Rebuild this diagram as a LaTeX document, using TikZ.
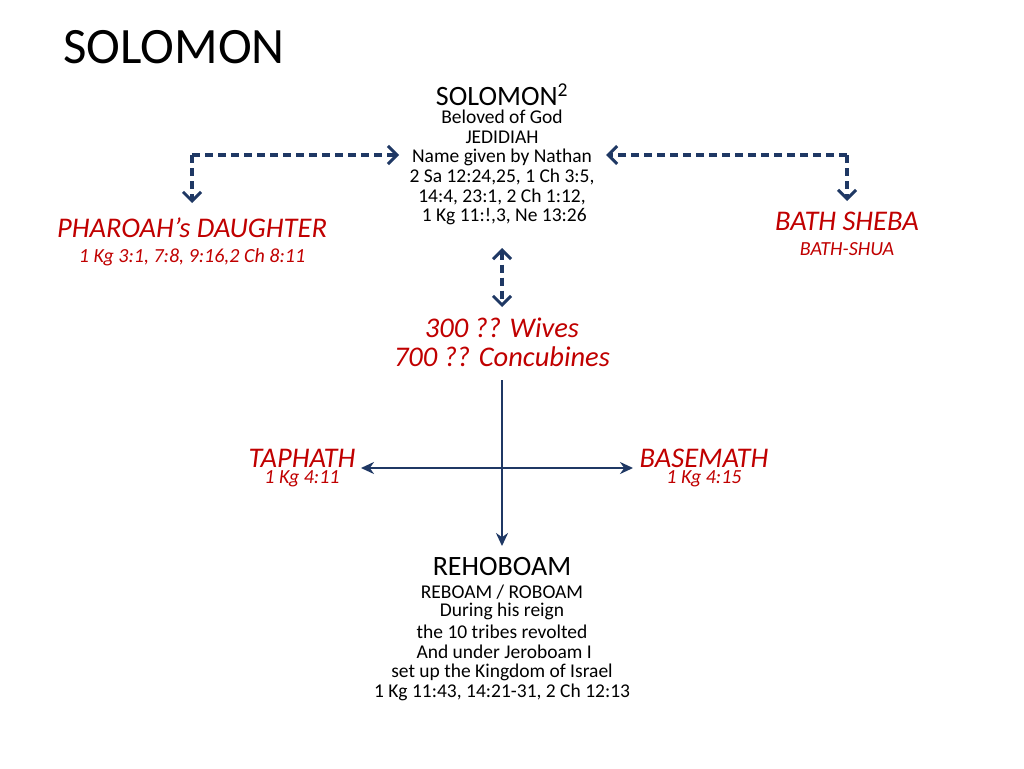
\documentclass[tikz,border=0pt]{standalone}
\usepackage{fontspec}
\setmainfont{Carlito}
\usetikzlibrary{arrows.meta}
\definecolor{dblue}{HTML}{1F3864}
\definecolor{dred}{HTML}{C00000}
\begin{document}
\begin{tikzpicture}[x=1pt,y=-1pt,
  t/.style={inner sep=0pt,anchor=center},
  sm/.style={t,font=\fontsize{19.5}{19.5}\selectfont},
  big/.style={t,font=\fontsize{28}{28}\selectfont},
  rbig/.style={t,text=dred,font=\fontsize{28.5}{28.5}\selectfont\itshape},
  rsm/.style={t,text=dred,font=\fontsize{20}{20}\selectfont\itshape},
  dconn/.style={dblue,line width=3.5pt,dash pattern=on 8pt off 5pt,-{Straight Barb[length=9pt,width=18pt,line width=3pt]}},
  dconnb/.style={dblue,line width=3.5pt,dash pattern=on 8pt off 5pt,{Straight Barb[length=9pt,width=18pt,line width=3pt]}-{Straight Barb[length=9pt,width=18pt,line width=3pt]}},
  sconn/.style={dblue,line width=2.5pt,-{Stealth[length=13pt,width=12pt]}},
  sconnb/.style={dblue,line width=2.5pt,{Stealth[length=13pt,width=12pt]}-{Stealth[length=13pt,width=12pt]}}]
\useasboundingbox (0,0) rectangle (1024,768);
\node[t,anchor=west,font=\fontsize{51}{51}\selectfont] (title) at (63,47) {SOLOMON};
\node[big] (sol) at (502,95) {SOLOMON\textsuperscript{2}};
\node[sm] (s1) at (502,117) {Beloved of God};
\node[sm] (s2) at (502,137) {JEDIDIAH};
\node[sm] (s3) at (502,157) {Name given by Nathan};
\node[sm] (s4) at (502,177) {2 Sa 12:24,25, 1 Ch 3:5,};
\node[sm] (s5) at (502,197) {14:4, 23:1, 2 Ch 1:12,};
\node[sm] (s6) at (502,217) {~1 Kg 11:!,3, Ne 13:26};
\node[rbig] (ph) at (192,228) {PHAROAH’s DAUGHTER};
\node[rsm] (phr) at (192,257) {1 Kg 3:1, 7:8, 9:16,2 Ch 8:11};
\node[rbig] (bs) at (847,221) {BATH SHEBA};
\node[rsm] (bsr) at (847,249) {BATH-SHUA};
\node[rbig] (w1) at (502,328) {300 ?? Wives};
\node[rbig] (w2) at (502,357) {700 ?? Concubines};
\node[rbig] (ta) at (302,458) {TAPHATH};
\node[rsm] (tar) at (302,479) {1 Kg 4:11};
\node[rbig] (ba) at (704,458) {BASEMATH};
\node[rsm] (bar) at (704,479) {1 Kg 4:15};
\node[big] (re) at (502,567) {REHOBOAM};
\node[sm] (r1) at (502,592) {REBOAM / ROBOAM};
\node[sm] (r2) at (502,611) {During his reign};
\node[sm] (r3) at (502,632) {the 10 tribes revolted};
\node[sm] (r4) at (502,652) {~And under Jeroboam I};
\node[sm] (r5) at (502,672) {set up the Kingdom of Israel};
\node[sm] (r6) at (502,692) {1 Kg 11:43, 14:21-31, 2 Ch 12:13};
\coordinate (lc) at (192,155);
\coordinate (rc) at (847,155);
\coordinate (la) at (399,155);
\coordinate (ra) at (606,155);
\coordinate (ld) at (192,203);
\coordinate (rd) at (847,201);
\coordinate (vt) at (502,248);
\coordinate (vb) at (502,307);
\coordinate (vtop) at (502,380);
\coordinate (vend) at (502,546);
\coordinate (hl) at (361,468);
\coordinate (hr) at (633,468);
\draw[dconn] (lc) -- (la);
\draw[dconn] (lc) -- (ld);
\draw[dconn] (rc) -- (ra);
\draw[dconn] (rc) -- (rd);
\draw[dconnb] (vt) -- (vb);
\draw[sconn] (vtop) -- (vend);
\draw[sconnb] (hl) -- (hr);
\end{tikzpicture}
\end{document}
